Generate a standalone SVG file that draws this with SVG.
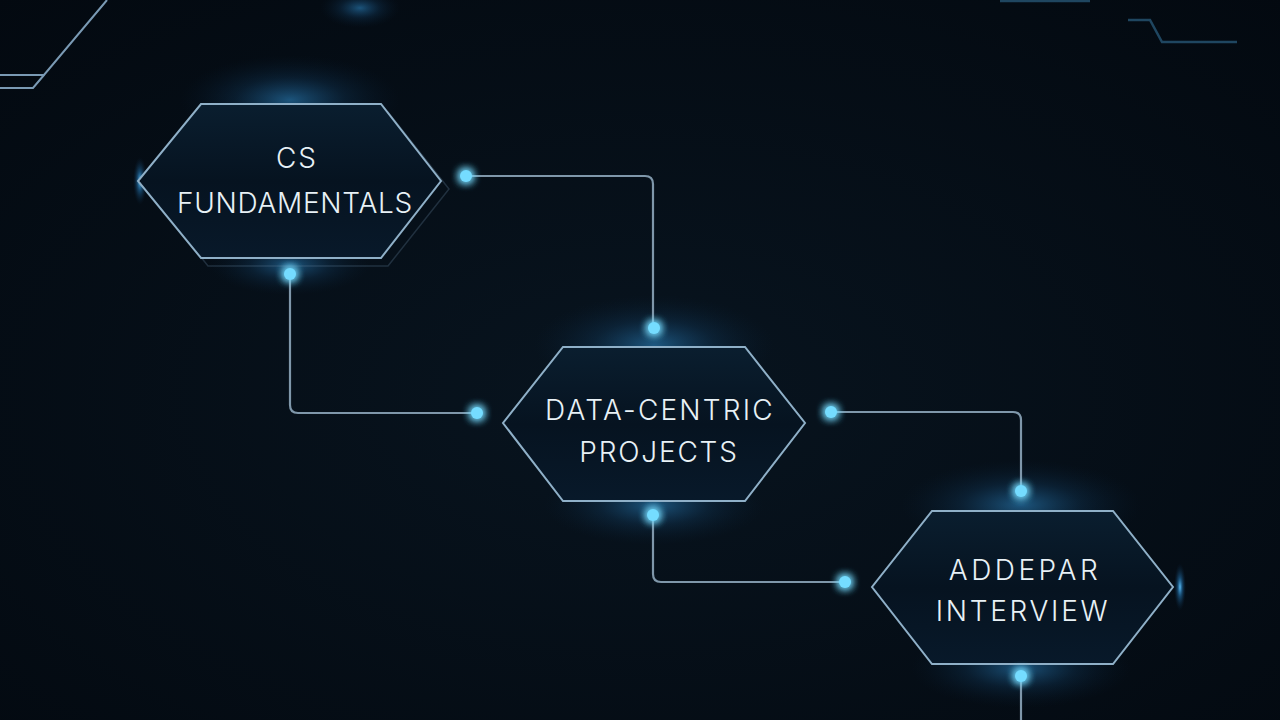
<svg xmlns="http://www.w3.org/2000/svg" width="1280" height="720" viewBox="0 0 1280 720">
  <defs>
    <radialGradient id="bg" cx="0.5" cy="0.55" r="0.75">
      <stop offset="0" stop-color="#08141f"/>
      <stop offset="1" stop-color="#030910"/>
    </radialGradient>
    <radialGradient id="glow" cx="0.5" cy="0.5" r="0.5">
      <stop offset="0" stop-color="#2f8fd0" stop-opacity="0.55"/>
      <stop offset="0.5" stop-color="#1c5f96" stop-opacity="0.2"/>
      <stop offset="1" stop-color="#0b2a48" stop-opacity="0"/>
    </radialGradient>
    <radialGradient id="vglow" cx="0.5" cy="0.5" r="0.5">
      <stop offset="0" stop-color="#5ec4ff" stop-opacity="0.95"/>
      <stop offset="0.4" stop-color="#2a8ad0" stop-opacity="0.45"/>
      <stop offset="1" stop-color="#0b2a48" stop-opacity="0"/>
    </radialGradient>
    <linearGradient id="hexfill" x1="0" y1="0" x2="0" y2="1">
      <stop offset="0" stop-color="#0a1e2f"/>
      <stop offset="0.5" stop-color="#061320"/>
      <stop offset="1" stop-color="#08192a"/>
    </linearGradient>
    <filter id="dotglow" x="-3" y="-3" width="7" height="7">
      <feGaussianBlur in="SourceGraphic" stdDeviation="5" result="b"/>
      <feMerge><feMergeNode in="b"/><feMergeNode in="b"/><feMergeNode in="b"/><feMergeNode in="SourceGraphic"/></feMerge>
    </filter>
  </defs>
  <style>
    .hex { fill: url(#hexfill); stroke: #8fb0c8; stroke-width: 2; }
    .hexshadow { fill: none; stroke: #5f7f98; stroke-width: 1.5; opacity: 0.3; }
    .label { font-family: Inter, "Liberation Sans", sans-serif; font-weight: 300; font-size: 28px; fill: #e8f1f6; text-anchor: middle; }
    .wire { fill: none; stroke: #7f97aa; stroke-width: 2.2; stroke-linecap: round; stroke-linejoin: round; }
    .dot { fill: #74dcff; filter: url(#dotglow); }
    .deco { fill: none; stroke: #7a9ab4; stroke-width: 2; }
    .decodim { fill: none; stroke: #1f4660; stroke-width: 2.5; }
  </style>

  <rect width="1280" height="720" fill="url(#bg)"/>

  <!-- ambient glows -->
  <g id="glows">
    <ellipse cx="290" cy="100" rx="110" ry="45" fill="url(#glow)"/>
    <ellipse cx="654" cy="345" rx="120" ry="50" fill="url(#glow)"/>
    <ellipse cx="654" cy="505" rx="110" ry="40" fill="url(#glow)"/>
    <ellipse cx="1021" cy="505" rx="120" ry="45" fill="url(#glow)"/>
    <ellipse cx="1021" cy="668" rx="110" ry="40" fill="url(#glow)"/>
    <ellipse cx="290" cy="265" rx="80" ry="30" fill="url(#glow)"/>
    <ellipse cx="360" cy="8" rx="40" ry="20" fill="url(#glow)"/>
    <ellipse cx="140" cy="181" rx="7" ry="24" fill="url(#vglow)"/>
    <ellipse cx="1180" cy="587" rx="6" ry="24" fill="url(#vglow)"/>
  </g>

  <!-- decorative circuit lines -->
  <g id="decor">
    <path class="deco" d="M0,75 H44 L107,0"/>
    <path class="deco" d="M0,88 H33 L44,75" stroke="#6a7f90"/>
    <path class="decodim" d="M1000,1 H1090" stroke="#3a6a90"/>
    <path class="decodim" d="M1128,20 H1150 L1162,42 H1237"/>
  </g>

  <!-- connectors -->
  <g id="connectors">
    <path class="wire" d="M466,176 H645 Q653,176 653,184 V328"/>
    <path class="wire" d="M290,274 V405 Q290,413 298,413 H477"/>
    <path class="wire" d="M831,412 H1013 Q1021,412 1021,420 V491"/>
    <path class="wire" d="M653,515 V574 Q653,582 661,582 H845"/>
    <path class="wire" d="M1021,676 V720"/>
  </g>

  <g id="node-cs">
    <polygon class="hexshadow" points="208,112 388,112 449,189 388,266 208,266 147,189"/>
    <polygon class="hex" points="201,104 381,104 441,181 381,258 201,258 138,181"/>
    <text class="label" x="297" y="168" letter-spacing="1.9">CS</text>
    <text class="label" x="295" y="213" letter-spacing="0.7">FUNDAMENTALS</text>
  </g>

  <g id="node-data">
    <polygon class="hex" points="563,347 745,347 805,423 745,501 563,501 503,423"/>
    <text class="label" x="660" y="420" letter-spacing="2.2">DATA-CENTRIC</text>
    <text class="label" x="659" y="462" letter-spacing="1.8">PROJECTS</text>
  </g>

  <g id="node-addepar">
    <polygon class="hex" points="932,511 1113,511 1173,587 1113,664 932,664 872,587"/>
    <text class="label" x="1025" y="580" letter-spacing="3.5">ADDEPAR</text>
    <text class="label" x="1023" y="621" letter-spacing="2.7">INTERVIEW</text>
  </g>

  <g id="dots">
    <circle class="dot" cx="466" cy="176" r="6"/>
    <circle class="dot" cx="290" cy="274" r="6"/>
    <circle class="dot" cx="654" cy="328" r="6"/>
    <circle class="dot" cx="477" cy="413" r="6"/>
    <circle class="dot" cx="831" cy="412" r="6"/>
    <circle class="dot" cx="653" cy="515" r="6"/>
    <circle class="dot" cx="1021" cy="491" r="6"/>
    <circle class="dot" cx="845" cy="582" r="6"/>
    <circle class="dot" cx="1021" cy="676" r="6"/>
  </g>
</svg>
